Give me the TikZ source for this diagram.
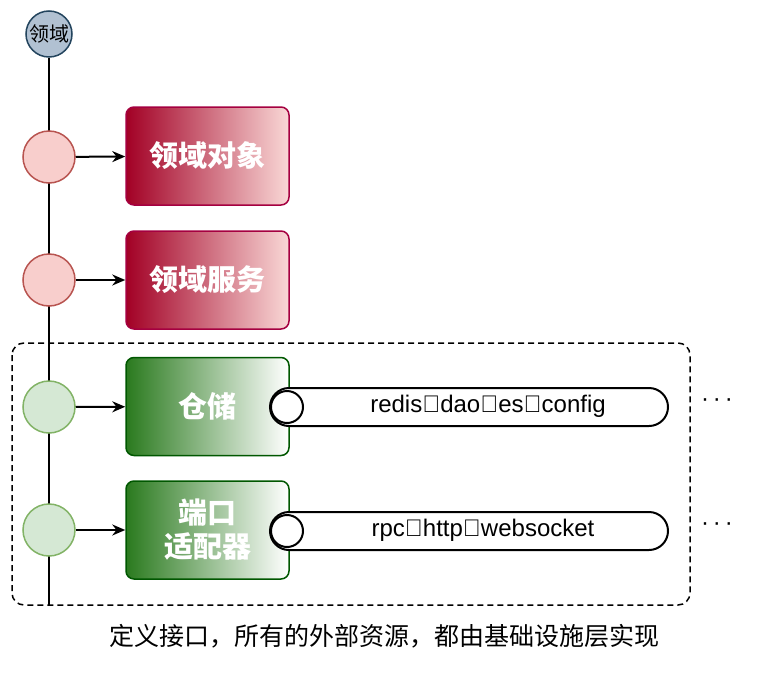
\documentclass[tikz,border=0pt]{standalone}
\usepackage{fontspec}
\setmainfont{Noto Sans CJK SC}
\newfontfamily\latinfont{Liberation Sans}
\usetikzlibrary{positioning,arrows.meta}
\definecolor{topfill}{HTML}{B1C1D2}
\definecolor{topline}{HTML}{23445D}
\definecolor{redfill}{HTML}{F8CECC}
\definecolor{redline}{HTML}{B85450}
\definecolor{greenfill}{HTML}{D5E8D4}
\definecolor{greenline}{HTML}{82B366}
\definecolor{reddark}{HTML}{A20025}
\definecolor{redboxline}{HTML}{A50040}
\definecolor{greendark}{HTML}{2A7A1E}
\definecolor{greenboxline}{HTML}{005700}
\tikzset{
  dot/.style={circle, minimum size=52pt, inner sep=0pt, line width=1.5pt},
  reddot/.style={dot, fill=redfill, draw=redline},
  greendot/.style={dot, fill=greenfill, draw=greenline},
  box/.style={rounded corners=8pt, minimum width=163pt, minimum height=98pt,
    text=white, font=\bfseries\fontsize{29pt}{34pt}\selectfont, align=center, line width=1.5pt},
  redbox/.style={box, draw=redboxline, left color=reddark, right color=redfill!80},
  greenbox/.style={box, draw=greenboxline, left color=greendark, right color=white},
  pill/.style={draw=black, fill=white, rounded corners=19pt, line width=2pt},
  label/.style={font=\latinfont\fontsize{24pt}{28pt}\selectfont},
  plug/.style={circle, draw=black, fill=white, line width=2pt, minimum size=32pt, inner sep=0pt},
  link/.style={-{Stealth[length=13pt,width=11pt]}, line width=2pt}
}
\begin{document}
\begin{tikzpicture}[x=1pt,y=-1pt]
  \useasboundingbox (0,0) rectangle (768,672);
  % frame
  \draw[dashed, rounded corners=12pt, line width=1.5pt, dash pattern=on 6pt off 4pt] (12,343) rectangle (690,605);
  % spine
  \coordinate (bottom) at (49,605);
  \node[circle, minimum size=46pt, inner sep=0pt, fill=topfill, draw=topline, line width=1.5pt,
    font=\fontsize{20pt}{22pt}\selectfont] (domain) at (49,34) {领域};
  \draw[line width=1.5pt] (domain) -- (bottom);
  % layers
  \node[reddot] (c1) at (49,157) {};
  \node[reddot] (c2) at (49,280) {};
  \node[greendot] (c3) at (49,407) {};
  \node[greendot] (c4) at (49,530) {};
  \node[redbox] (entity) at (207.5,156) {领域对象};
  \node[redbox] (service) at (207.5,280) {领域服务};
  \node[greenbox] (repo) at (207.5,406.5) {仓储};
  \node[greenbox] (port) at (207.5,530) {端口\\适配器};
  \draw[link] (c1) -- (entity);
  \draw[link] (c2) -- (service);
  \draw[link] (c3) -- (repo);
  \draw[link] (c4) -- (port);
  % implementations
  \draw[pill] (270,388) rectangle (668,426);
  \node[plug] (p1) at (287,407) {};
  \node[label] (redis) at (488,406) {redis、dao、es、config};
  \draw[pill] (270,512) rectangle (668,550);
  \node[plug] (p2) at (287,531) {};
  \node[label] (rpc) at (483,530) {rpc、http、websocket};
  \node[label] (more1) at (717,403) {·\,·\,·};
  \node[label] (more2) at (717,527) {·\,·\,·};
  % caption
  \node[font=\fontsize{25pt}{28pt}\selectfont] (caption) at (384,636)
    {定义接口，所有的外部资源，都由基础设施层实现};
\end{tikzpicture}
\end{document}
